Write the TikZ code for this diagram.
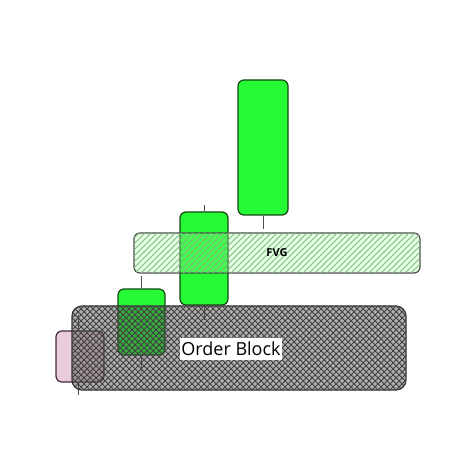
\documentclass[tikz,border=0pt]{standalone}
\usepackage{fontspec}
\setmainfont{Open Sans}
\usepackage{tikz}
\usetikzlibrary{positioning,patterns}

\definecolor{candlegreen}{RGB}{38,250,52}
\definecolor{candleline}{RGB}{20,70,20}
\definecolor{candlepink}{RGB}{232,204,220}
\definecolor{pinkline}{RGB}{70,40,60}

\tikzset{
  candle/.style={draw=candleline, fill=candlegreen, rounded corners=3pt, inner sep=0pt, line width=0.6pt},
  bearcandle/.style={candle, draw=pinkline, fill=candlepink},
  wick/.style={draw=black!70, line width=0.4pt},
  fvgzone/.style={draw=black!70, rounded corners=3pt, inner sep=0pt, line width=0.6pt,
    fill=green!40, fill opacity=0.25, text opacity=1,
    postaction={pattern=north east lines, pattern color=green!45!black!50, fill opacity=0.5}},
  obzone/.style={draw=black!80, rounded corners=5pt, inner sep=0pt, line width=0.6pt,
    fill=black!70, fill opacity=0.45,
    postaction={pattern=crosshatch, pattern color=black!75, fill opacity=0.6}},
  zonelabel/.style={fill=white, inner sep=0pt, minimum width=51pt, minimum height=11pt, font=\fontsize{9}{10}\selectfont}
}

\begin{document}
\begin{tikzpicture}[x=0.5pt,y=-0.5pt]
    \useasboundingbox (0,0) rectangle (474,474);
    % candles, left to right
    \node[bearcandle, minimum width=24pt, minimum height=25.5pt] at (80,356.5) (c1) {};
    \coordinate (c1top) at (78,315);
    \coordinate (c1bot) at (78,395);
    \draw[wick] (c1top) -- (c1.north -| c1top);
    \draw[wick] (c1.south -| c1bot) -- (c1bot);
    \node[candle, minimum width=23.5pt, minimum height=33pt] at (141.5,322) (c2) {};
    \coordinate (c2top) at (141,276);
    \coordinate (c2bot) at (141,372);
    \draw[wick] (c2top) -- (c2.north -| c2top);
    \draw[wick] (c2.south -| c2bot) -- (c2bot);
    \node[candle, minimum width=24pt, minimum height=46.5pt] at (204,258.5) (c3) {};
    \coordinate (c3top) at (204,205);
    \coordinate (c3bot) at (204,320);
    \draw[wick] (c3top) -- (c3.north);
    \draw[wick] (c3.south) -- (c3bot);
    \node[candle, minimum width=25pt, minimum height=67.5pt] at (263,147.5) (c4) {};
    \coordinate (c4bot) at (263,229);
    \draw[wick] (c4.south) -- (c4bot);
    % zones
    \node[fvgzone, minimum width=143pt, minimum height=20pt, font=\fontsize{5.5}{6}\selectfont\bfseries] at (277,253) (fvg) {FVG};
    \node[obzone, minimum width=167pt, minimum height=42pt] at (239,348) (ob) {};
    \node[zonelabel] at (231,349) (oblabel) {Order Block};
\end{tikzpicture}
\end{document}
